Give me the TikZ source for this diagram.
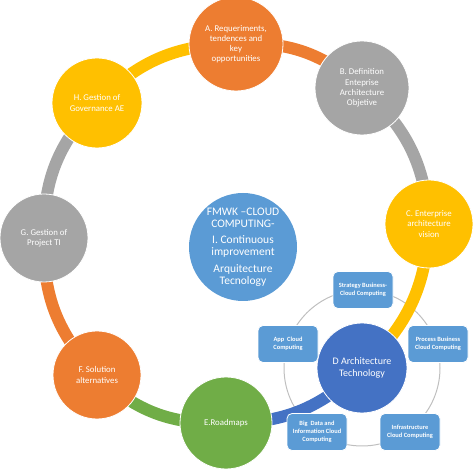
\documentclass[tikz,border=0pt]{standalone}
\usepackage{fontspec}
\setmainfont{Carlito}
\usetikzlibrary{backgrounds}
\definecolor{corange}{HTML}{ED7D31}
\definecolor{cgray}{HTML}{A5A5A5}
\definecolor{cyellow}{HTML}{FFC000}
\definecolor{cblue}{HTML}{5B9BD5}
\definecolor{cdblue}{HTML}{4472C4}
\definecolor{cgreen}{HTML}{70AD47}
\definecolor{cring}{HTML}{BFBFBF}
\begin{document}
\begin{tikzpicture}[x=1pt,y=1pt,
  stage/.style={circle, draw=white, line width=0.8pt, text=white, align=center, inner sep=0pt, font=\fontsize{8.8}{10.2}\selectfont},
  band/.style={line width=12pt},
  subbox/.style={rectangle, rounded corners=5pt, fill=cblue, draw=white, line width=0.8pt, minimum width=60pt, minimum height=37pt, text=white, align=center, font=\fontsize{6.4}{7.8}\selectfont\bfseries, inner sep=1pt}]
\useasboundingbox (0,0) rectangle (474,474);
% stage circles
\node[stage, fill=corange, minimum size=94pt] (A) at (236,430) {A. Requeriments,\\tendences and\\key\\opportunities};
\node[stage, fill=cgray, minimum size=94pt] (B) at (362,386) {B. Definition\\Enteprise\\Architecture\\Objetive};
\node[stage, fill=cyellow, minimum size=88pt] (C) at (429,250) {C. Enterprise\\architecture\\vision};
\node[stage, fill=cdblue, minimum size=90pt, font=\fontsize{10}{11.5}\selectfont] (D) at (362,106) {D Architecture\\Technology};
\node[stage, fill=cgreen, minimum size=92pt] (E) at (226,51) {E.Roadmaps};
\node[stage, fill=corange, minimum size=88pt] (F) at (97,99) {F. Solution\\alternatives};
\node[stage, fill=cgray, minimum size=88pt] (G) at (44,236) {G. Gestion of\\Project TI};
\node[stage, fill=cyellow, minimum size=90pt] (H) at (97,371) {H. Gestion of\\Governance AE};
% centre
\node[stage, fill=cblue, draw=none, minimum size=108pt, font=\fontsize{11.5}{11.8}\selectfont] (M) at (243,227)
  {FMWK –CLOUD\\COMPUTING-\\[5pt]I. Continuous\\improvement\\[5pt]Arquitecture\\Tecnology};
% sub boxes
\node[subbox] (S) at (363,184) {Strategy Business-\\Cloud Computing};
\node[subbox] (Ap) at (288,130) {App\ \ Cloud\\Computing};
\node[subbox] (P) at (438,130) {Process Business\\Cloud Computing};
\node[subbox] (Bd) at (317,42) {Big\ \ Data and\\Information Cloud\\Computing};
\node[subbox] (I) at (410,42) {Infrastructure\\Cloud Computing};
\begin{scope}[on background layer]
  \draw[cring, line width=1pt] (D.center) circle[radius=78pt];
  \draw[band, corange] (A.center) to[bend left=22.5] (B.center);
  \draw[band, cgray] (B.center) to[bend left=22.5] (C.center);
  \draw[band, cyellow] (C.center) to[bend left=22.5] (D.center);
  \draw[band, cdblue] (D.center) to[bend left=22.5] (E.center);
  \draw[band, cgreen] (E.center) to[bend left=22.5] (F.center);
  \draw[band, corange] (F.center) to[bend left=22.5] (G.center);
  \draw[band, cgray] (G.center) to[bend left=22.5] (H.center);
  \draw[band, cyellow] (H.center) to[bend left=22.5] (A.center);
\end{scope}
\end{tikzpicture}
\end{document}
